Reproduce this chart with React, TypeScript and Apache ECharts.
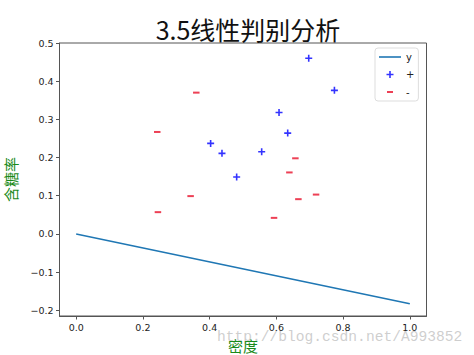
import React, { useEffect, useRef } from "react";
import * as echarts from "echarts";

const goodDensity = [0.697, 0.774, 0.634, 0.608, 0.556, 0.403, 0.481, 0.437];
const goodSugar = [0.46, 0.376, 0.264, 0.318, 0.215, 0.237, 0.149, 0.211];
const badDensity = [0.666, 0.243, 0.245, 0.343, 0.639, 0.657, 0.36, 0.593, 0.719];
const badSugar = [0.091, 0.267, 0.057, 0.099, 0.161, 0.198, 0.37, 0.042, 0.103];
const lineX = [0, 1];
const lineY = [0, -0.183];
const xTicks = [0, 0.2, 0.4, 0.6, 0.8, 1.0];
const yTicks = [-0.2, -0.1, 0, 0.1, 0.2, 0.3, 0.4, 0.5];

const PLUS = "path://M2.7,0H4.3V2.7H7V4.3H4.3V7H2.7V4.3H0V2.7H2.7Z";
const LEG_LINE = "path://M0,0M22,8M0,3.2H22V4.8H0Z";
const LEG_PLUS = "path://M0,0M22,8M10.2,0.5H11.8V3.2H14.5V4.8H11.8V7.5H10.2V4.8H7.5V3.2H10.2Z";
const LEG_MINUS = "path://M0,0M22,8M8,3H14V5H8Z";

const fmt = (v: number) => {
  const s = Math.abs(v).toFixed(1);
  return v < -1e-9 ? "\u2212" + s : s;
};

export default function App() {
  const ref = useRef<HTMLDivElement>(null);
  useEffect(() => {
    const chart = echarts.init(ref.current!, null, { renderer: "svg" });
    const tickFont = { fontFamily: "DejaVu Sans", fontSize: 9.5, color: "#222" };
    chart.setOption({
      animation: false,
      backgroundColor: "#fff",
      title: {
        text: "3.5线性判别分析",
        left: 243,
        textAlign: "center",
        top: 11,
        textStyle: { fontFamily: "Noto Sans CJK SC", fontSize: 25, fontWeight: "normal", color: "#111" },
      },
      grid: {
        left: 59.5,
        right: 47.5,
        top: 43,
        bottom: 39,
        show: true,
        borderColor: "#555",
        borderWidth: 1,
        containLabel: false,
        outerBoundsMode: "none",
      },
      legend: {
        orient: "vertical",
        left: 375,
        top: 48,
        padding: [4, 4, 4, 4],
        borderColor: "#ddd",
        borderWidth: 1,
        borderRadius: 3,
        itemWidth: 22,
        itemHeight: 8,
        itemGap: 7.5,
        textStyle: { fontFamily: "DejaVu Sans", fontSize: 10, color: "#222" },
        data: [
          { name: "y", icon: LEG_LINE, itemStyle: { color: "#1f77b4" } },
          { name: "+", icon: LEG_PLUS },
          { name: "-", icon: LEG_MINUS },
        ],
      },
      xAxis: {
        type: "value",
        min: -0.05,
        max: 1.05,
        name: "密度",
        nameLocation: "middle",
        nameGap: 22,
        nameTextStyle: { fontFamily: "Noto Sans CJK SC", fontSize: 15, color: "#1a8a1a" },
        splitLine: { show: false },
        axisLine: { show: true, onZero: false, lineStyle: { color: "#555" } },
        axisTick: { show: true, length: 3.5, lineStyle: { color: "#555" }, customValues: xTicks },
        axisLabel: { ...tickFont, margin: 6, customValues: xTicks, formatter: fmt },
      },
      yAxis: {
        type: "value",
        min: -0.215,
        max: 0.5,
        name: "含糖率",
        nameLocation: "middle",
        nameGap: 42,
        nameTextStyle: { fontFamily: "Noto Sans CJK SC", fontSize: 15, color: "#1a8a1a" },
        splitLine: { show: false },
        axisLine: { show: true, onZero: false, lineStyle: { color: "#555" } },
        axisTick: { show: true, length: 3.5, lineStyle: { color: "#555" }, customValues: yTicks },
        axisLabel: { ...tickFont, margin: 6, customValues: yTicks, formatter: fmt },
      },
      series: [
        {
          name: "y",
          type: "line",
          data: lineX.map((x, i) => [x, lineY[i]]),
          showSymbol: false,
          lineStyle: { color: "#1f77b4", width: 1.5 },
          itemStyle: { color: "#1f77b4" },
        },
        {
          name: "+",
          type: "scatter",
          symbol: PLUS,
          symbolSize: 7,
          itemStyle: { color: "#0000ff" },
          data: goodDensity.map((x, i) => [x, goodSugar[i]]),
        },
        {
          name: "-",
          type: "scatter",
          symbol: "rect",
          symbolSize: [6.5, 2],
          itemStyle: { color: "#e8102a" },
          data: badDensity.map((x, i) => [x, badSugar[i]]),
        },
      ],
      graphic: [
        {
          type: "text",
          left: 217,
          top: 329,
          style: {
            text: "http://blog.csdn.net/A993852",
            fontFamily: "Liberation Mono",
            fontSize: 14.6,
            fill: "rgba(185,185,185,0.7)",
          },
        },
      ],
    });
    return () => chart.dispose();
  }, []);
  return <div ref={ref} style={{ width: 474, height: 355, position: "absolute", left: 0, top: 0 }} />;
}
